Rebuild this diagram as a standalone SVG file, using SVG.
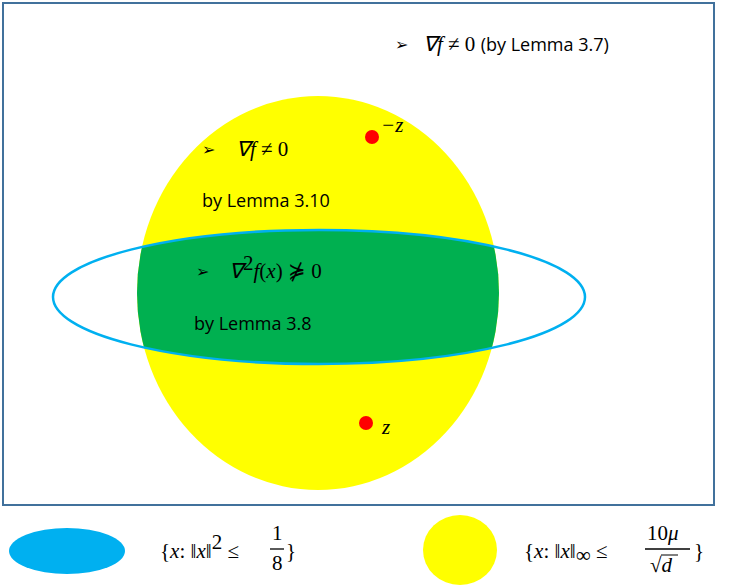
<svg xmlns="http://www.w3.org/2000/svg" width="755" height="588" viewBox="0 0 755 588">
<style>
.m{font-family:"Liberation Serif",serif;font-style:italic;font-size:21px;fill:#000}
.r{font-family:"Liberation Serif",serif;font-size:21px;fill:#000}
.t{font-family:"Open Sans","Liberation Sans",sans-serif;font-size:18px;fill:#000}
.a{font-family:"DejaVu Sans",sans-serif;font-size:16px;fill:#000}
</style>
<defs>
<clipPath id="yc"><ellipse cx="318" cy="293" rx="181" ry="197"/></clipPath>
</defs>
<rect width="755" height="588" fill="#fff"/>
<g id="frame"><rect x="3" y="3" width="711" height="502" fill="#fff" stroke="#41719c" stroke-width="2"/></g>
<g id="yellow"><ellipse cx="318" cy="293" rx="181" ry="197" fill="#ffff00"/></g>
<g id="green"><ellipse cx="319" cy="297" rx="266" ry="67" fill="#00b050" clip-path="url(#yc)"/></g>
<g id="blue"><ellipse cx="319" cy="297" rx="266" ry="67" fill="none" stroke="#00b0f0" stroke-width="2.5"/></g>
<g id="pts">
<circle cx="372" cy="137" r="7" fill="#ff0000"/><text class="m" x="381" y="132">−z</text>
<circle cx="366" cy="423" r="7" fill="#ff0000"/><text class="m" x="382" y="434">z</text>
</g>
<g id="labels">
<text class="a" x="395" y="50">➢</text>
<text x="423" y="51"><tspan class="m">∇f</tspan><tspan class="r"> ≠ 0 </tspan><tspan class="t">(by Lemma 3.7)</tspan></text>
<text class="a" x="202" y="155">➢</text>
<text x="236" y="156"><tspan class="m">∇f</tspan><tspan class="r"> ≠ 0</tspan></text>
<text class="t" x="202" y="207">by Lemma 3.10</text>
<text class="a" x="196" y="277">➢</text>
<text x="229" y="278"><tspan class="m">∇</tspan><tspan class="r" font-size="14" dy="-8">2</tspan><tspan class="m" dy="8">f</tspan><tspan class="r">(</tspan><tspan class="m">x</tspan><tspan class="r">) </tspan><tspan class="r" fill="#ff0000">⋡</tspan><tspan class="r"> 0</tspan></text>
<text class="t" x="194" y="330">by Lemma 3.8</text>
</g>
<g id="legend">
<ellipse cx="67" cy="551" rx="58" ry="23" fill="#00b0f0"/>
<text x="160" y="558"><tspan class="r" font-size="30">{</tspan><tspan class="m">x</tspan><tspan class="r">: ‖</tspan><tspan class="m">x</tspan><tspan class="r">‖</tspan><tspan class="r" font-size="13" dy="-9">2</tspan><tspan class="r" dy="9"> ≤ </tspan></text>
<text class="r" x="272" y="540" font-size="19">1</text>
<line x1="270" y1="549" x2="284" y2="549" stroke="#000" stroke-width="1.3"/>
<text class="r" x="272" y="570" font-size="19">8</text>
<text class="r" x="286" y="558" font-size="30">}</text>
<ellipse cx="460" cy="550" rx="37" ry="35" fill="#ffff00"/>
<text x="524" y="558"><tspan class="r" font-size="30">{</tspan><tspan class="m">x</tspan><tspan class="r">: ‖</tspan><tspan class="m">x</tspan><tspan class="r">‖</tspan><tspan class="r" font-size="13" dy="4">∞</tspan><tspan class="r" dy="-4"> ≤ </tspan></text>
<text x="647" y="540"><tspan class="r" font-size="19">10</tspan><tspan class="m" font-size="19">μ</tspan></text>
<line x1="645" y1="549" x2="690" y2="549" stroke="#000" stroke-width="1.3"/>
<text x="650" y="572"><tspan class="r" font-size="19">√</tspan><tspan class="m" font-size="19">d</tspan></text>
<line x1="661" y1="555" x2="678" y2="555" stroke="#000" stroke-width="1"/>
<text class="r" x="694" y="558" font-size="30">}</text>
</g>
</svg>
